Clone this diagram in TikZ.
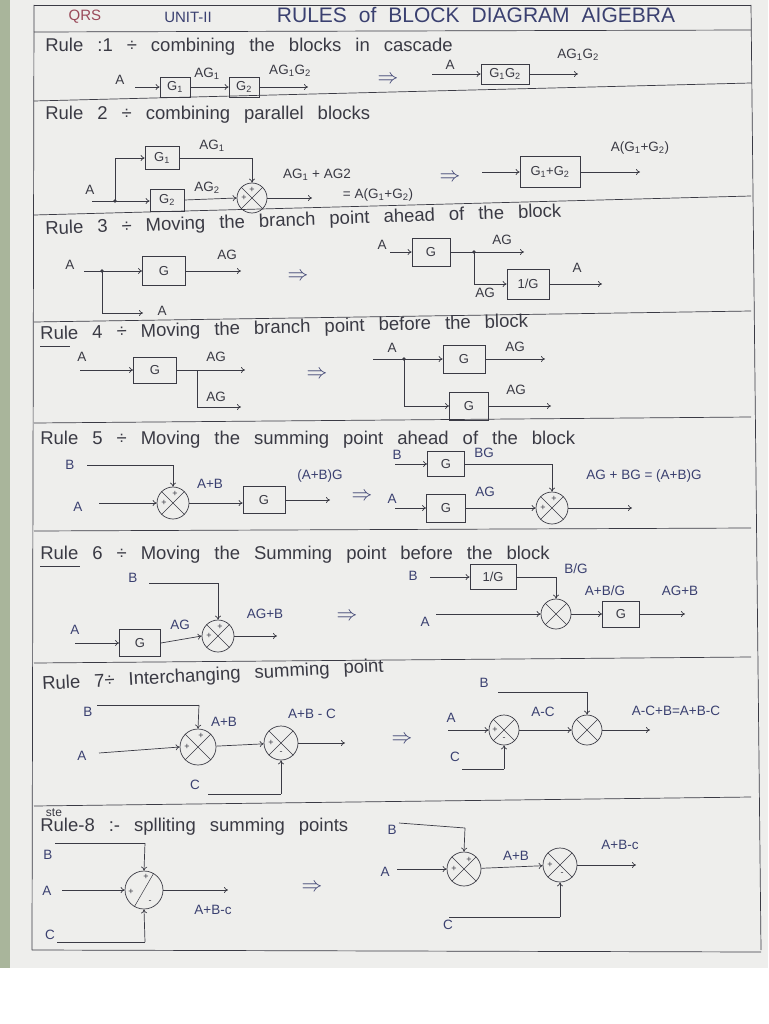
\documentclass[tikz,border=0pt]{standalone}
\usepackage{fontspec}
\setmainfont{Liberation Sans}
\usetikzlibrary{arrows.meta}
\definecolor{ink}{HTML}{3A3A44}
\definecolor{blueink}{HTML}{3A4070}
\definecolor{paper}{HTML}{EEEEEC}
\definecolor{strip}{HTML}{A9B59B}
\definecolor{redink}{HTML}{9A4A5A}
\newcommand\sumpt[4]{%
  \node[sumc, minimum size=#4pt] (#1) at (#2,#3) {};
  \draw[line width=0.5pt] (#1.45)--(#1.225) (#1.135)--(#1.315);}
\newcommand\sub[1]{\textsubscript{#1}}
\newcommand\headfont{\fontsize{18.5}{20}\selectfont\spaceskip 14pt plus 2pt\relax}
\newcommand\titlefont{\fontsize{21}{23}\selectfont\spaceskip 12pt plus 2pt\relax}
\begin{document}
\begin{tikzpicture}[x=1pt,y=-1pt, line width=0.7pt, draw=ink,
 blk/.style={draw=ink, minimum width=30pt, minimum height=20pt, inner sep=1pt, font=\fontsize{13}{14}\selectfont, text=ink},
 sumc/.style={draw=ink, circle, inner sep=0pt},
 lbl/.style={font=\fontsize{13.5}{15}\selectfont, inner sep=1pt, text=ink},
 blbl/.style={lbl, text=blueink},
 head/.style={font=\headfont, anchor=west, inner sep=0pt, text=ink},
 mk/.style={font=\fontsize{9}{10}\selectfont, inner sep=0pt, text=ink},
 arr/.style={draw=ink, -{To[length=4pt,width=6pt]}},
 ln/.style={draw=ink},
 imp/.style={font=\fontsize{22}{24}\selectfont, text=blueink}]
% page
\fill[white] (0,0) rectangle (768,1024);
\fill[paper] (10,0) rectangle (768,968);
\fill[strip] (0,0) rectangle (10,968);
\useasboundingbox (0,0) rectangle (768,1024);
% frame
\draw[ln] (34,5) -- (751,5);
\draw[ln] (34,5) -- (32,950);
\draw[ln] (751,5) -- (761,950);
\draw[ln] (32,950) -- (761,952);
\draw[ln] (34,32) -- (751,30);
\draw[ln] (34,101) -- (751,83);
\draw[ln] (34,215) -- (751,196);
\draw[ln] (34,322) -- (751,311);
\draw[ln] (34,423) -- (751,417);
\draw[ln] (34,531) -- (751,528);
\draw[ln] (34,663) -- (751,657);
\draw[ln] (34,806) -- (751,797);
% title
\node[font=\fontsize{15}{17}\selectfont, text=redink] (tq) at (85,17) {QRS};
\node[font=\fontsize{15}{17}\selectfont, text=blueink] (tu) at (188,17) {UNIT-II};
\node[font=\titlefont, text=blueink] (tt) at (476,15) {RULES of BLOCK DIAGRAM AIGEBRA};

% ---------- Rule 1
\node[head] (h1) at (45,47) {Rule :1 ÷ combining the blocks in cascade};
\node[lbl] (r1a) at (120,80) {A};
\coordinate (r1in) at (135,87);
\node[blk] (r1g1) at (175,87) {G\sub1};
\node[blk] (r1g2) at (244,87) {G\sub2};
\coordinate (r1out) at (308,87);
\draw[arr] (r1in) -- (r1g1);
\draw[arr] (r1g1) -- (r1g2);
\draw[arr] (r1g2) -- (r1out);
\node[lbl] (r1l1) at (207,74) {AG\sub1};
\node[lbl] (r1l2) at (290,71) {AG\sub1G\sub2};
\node[imp] (r1i) at (388,80) {$\Rightarrow$};
\node[lbl] (r1b) at (450,65) {A};
\coordinate (r1in2) at (432,74);
\node[blk, minimum width=48pt] (r1g12) at (505,74) {G\sub1G\sub2};
\coordinate (r1out2) at (578,74);
\draw[arr] (r1in2) -- (r1g12);
\draw[arr] (r1g12) -- (r1out2);
\node[lbl] (r1l3) at (578,55) {AG\sub1G\sub2};

% ---------- Rule 2
\node[head] (h2) at (45,115) {Rule 2 ÷ combining parallel blocks};
\node[blk, minimum width=34pt, minimum height=23pt] (r2g1) at (162,158) {G\sub1};
\node[blk, minimum width=34pt, minimum height=22pt] (r2g2) at (167,200) {G\sub2};
\node[lbl] (r2a) at (90,190) {A};
\coordinate (r2in) at (92,201);
\coordinate (r2bp) at (115,201);
\fill[ink] (r2bp) circle (1.8pt);
\sumpt{r2s}{252}{198}{30}
\node[mk] (r2m1) at (252,190) {+};
\node[mk] (r2m2) at (244,198) {+};
\draw[ln] (r2in) -- (r2bp);
\draw[arr] (r2bp) -- (r2g2.west |- r2bp);
\draw[arr] (r2bp) |- (r2g1);
\draw[arr] (r2g1.east) -| (r2s.north);
\draw[arr] (r2g2.east) -- (r2s.west);
\coordinate (r2out) at (312,198);
\draw[arr] (r2s.east) -- (r2out);
\node[lbl] (r2l1) at (212,146) {AG\sub1};
\node[lbl] (r2l2) at (207,188) {AG\sub2};
\node[lbl] (r2l3) at (317,175) {AG\sub1 + AG2};
\node[lbl] (r2l4) at (378,195) {= A(G\sub1+G\sub2)};
\node[imp] (r2i) at (450,178) {$\Rightarrow$};
\coordinate (r2in2) at (482,172);
\node[blk, minimum width=60pt, minimum height=31pt] (r2g) at (550,172) {G\sub1+G\sub2};
\coordinate (r2out2) at (640,172);
\draw[arr] (r2in2) -- (r2g);
\draw[arr] (r2g) -- (r2out2);
\node[lbl] (r2l5) at (640,148) {A(G\sub1+G\sub2)};

% ---------- Rule 3
\node[head, rotate=2] (h3) at (45,230) {Rule 3 ÷ Moving the branch point ahead of the block};
\node[lbl] (r3a) at (70,265) {A};
\coordinate (r3in) at (84,271);
\coordinate (r3bp) at (102,271);
\fill[ink] (r3bp) circle (1.8pt);
\node[blk, minimum width=43pt, minimum height=29pt] (r3g) at (164,271) {G};
\coordinate (r3out) at (241,271);
\coordinate (r3down) at (143,313);
\draw[ln] (r3in) -- (r3bp);
\draw[arr] (r3bp) -- (r3g);
\draw[arr] (r3g) -- (r3out);
\draw[arr] (r3bp) |- (r3down);
\node[lbl] (r3l1) at (227,255) {AG};
\node[lbl] (r3l2) at (162,311) {A};
\node[imp] (r3i) at (298,277) {$\Rightarrow$};
\node[lbl] (r3b) at (382,245) {A};
\coordinate (r3in2) at (390,252);
\node[blk, minimum width=38pt, minimum height=28pt] (r3g2) at (431,252) {G};
\coordinate (r3bp2) at (474,252);
\fill[ink] (r3bp2) circle (1.8pt);
\coordinate (r3out2) at (524,252);
\node[blk, minimum width=42pt, minimum height=30pt] (r3gi) at (528,284) {1/G};
\coordinate (r3out3) at (602,284);
\draw[arr] (r3in2) -- (r3g2);
\draw[ln] (r3g2) -- (r3bp2);
\draw[arr] (r3bp2) -- (r3out2);
\draw[arr] (r3bp2) |- (r3gi);
\draw[arr] (r3gi) -- (r3out3);
\node[lbl] (r3l3) at (502,240) {AG};
\node[lbl] (r3l4) at (577,268) {A};
\node[lbl] (r3l5) at (485,293) {AG};

% ---------- Rule 4
\node[head, rotate=1.5] (h4) at (40,335) {Rule 4 ÷ Moving the branch point before the block};
\draw[ln] (40,346) -- (70,346);
\node[lbl] (r4a) at (82,357) {A};
\coordinate (r4in) at (80,370);
\node[blk, minimum width=43pt, minimum height=26pt] (r4g) at (155,370) {G};
\coordinate (r4bp) at (197,370);
\coordinate (r4out) at (245,370);
\coordinate (r4down) at (241,407);
\draw[arr] (r4in) -- (r4g);
\draw[ln] (r4g) -- (r4bp);
\draw[arr] (r4bp) -- (r4out);
\draw[arr] (r4bp) |- (r4down);
\node[lbl] (r4l1) at (216,357) {AG};
\node[lbl] (r4l2) at (216,397) {AG};
\node[imp] (r4i) at (317,375) {$\Rightarrow$};
\node[lbl] (r4b) at (392,348) {A};
\coordinate (r4in2) at (373,359);
\coordinate (r4bp2) at (404,359);
\fill[ink] (r4bp2) circle (1.8pt);
\node[blk, minimum width=42pt, minimum height=28pt] (r4g1) at (464,359) {G};
\node[blk, minimum width=39pt, minimum height=28pt] (r4g2) at (469,406) {G};
\coordinate (r4out1) at (545,359);
\coordinate (r4out2) at (551,406);
\draw[ln] (r4in2) -- (r4bp2);
\draw[arr] (r4bp2) -- (r4g1);
\draw[arr] (r4bp2) |- (r4g2);
\draw[arr] (r4g1) -- (r4out1);
\draw[arr] (r4g2) -- (r4out2);
\node[lbl] (r4l3) at (515,347) {AG};
\node[lbl] (r4l4) at (516,390) {AG};

% ---------- Rule 5
\node[head] (h5) at (40,440) {Rule 5 ÷ Moving the summing point ahead of the block};
\node[blbl] (r5b) at (70,465) {B};
\coordinate (r5bin) at (87,465);
\coordinate (r5bc) at (173,465);
\sumpt{r5s}{173}{503}{32}
\node[mk] (r5m1) at (175,494) {+};
\node[mk] (r5m2) at (164,503) {+};
\node[blbl] (r5a) at (78,507) {A};
\coordinate (r5ain) at (99,503);
\node[blk, minimum width=42pt, minimum height=27pt] (r5g) at (264,500) {G};
\coordinate (r5out) at (330,500);
\draw[ln] (r5bin) -- (r5bc);
\draw[arr] (r5bc) -- (r5s.north);
\draw[arr] (r5ain) -- (r5s.west);
\draw[arr] (r5s.east) -- (r5g.west |- r5s.east);
\draw[arr] (r5g) -- (r5out);
\node[blbl] (r5l1) at (210,484) {A+B};
\node[blbl] (r5l2) at (320,476) {(A+B)G};
\node[imp] (r5i) at (362,497) {$\Rightarrow$};
\node[blbl] (r5b2) at (397,455) {B};
\coordinate (r5bin2) at (395,464);
\node[blk, minimum width=37pt, minimum height=25pt] (r5g1) at (446,464) {G};
\coordinate (r5bc2) at (552,464);
\node[blbl] (r5l3) at (484,453) {BG};
\node[blbl] (r5a2) at (392,499) {A};
\coordinate (r5ain2) at (395,508);
\node[blk, minimum width=39pt, minimum height=28pt] (r5g2) at (446,508) {G};
\sumpt{r5s2}{552}{508}{32}
\node[mk] (r5m3) at (554,499) {+};
\node[mk] (r5m4) at (543,508) {+};
\coordinate (r5out2) at (632,508);
\draw[arr] (r5bin2) -- (r5g1);
\draw[ln] (r5g1) -- (r5bc2);
\draw[arr] (r5bc2) -- (r5s2.north);
\draw[arr] (r5ain2) -- (r5g2);
\draw[arr] (r5g2) -- (r5s2);
\draw[arr] (r5s2) -- (r5out2);
\node[blbl] (r5l4) at (485,492) {AG};
\node[blbl] (r5l5) at (644,476) {AG + BG = (A+B)G};

% ---------- Rule 6
\node[head] (h6) at (40,555) {Rule 6 ÷ Moving the Summing point before the block};
\draw[ln] (40,566) -- (80,566);
\node[blbl] (r6b) at (133,578) {B};
\coordinate (r6bin) at (149,583);
\coordinate (r6bc) at (218,583);
\sumpt{r6s}{218}{636}{32}
\node[mk] (r6m1) at (220,627) {+};
\node[mk] (r6m2) at (209,636) {+};
\node[blbl] (r6a) at (75,630) {A};
\coordinate (r6ain) at (75,643);
\node[blk, minimum width=41pt, minimum height=27pt] (r6g) at (140,643) {G};
\coordinate (r6out) at (277,636);
\draw[ln] (r6bin) -- (r6bc);
\draw[arr] (r6bc) -- (r6s.north);
\draw[arr] (r6ain) -- (r6g);
\draw[arr] (r6g.east) -- (r6s.west);
\draw[arr] (r6s) -- (r6out);
\node[blbl] (r6l1) at (180,625) {AG};
\node[blbl] (r6l2) at (265,614) {AG+B};
\node[imp] (r6i) at (347,617) {$\Rightarrow$};
\node[blbl] (r6b2) at (413,576) {B};
\coordinate (r6bin2) at (430,577);
\node[blk, minimum width=46pt, minimum height=25pt] (r6gi) at (493,577) {1/G};
\coordinate (r6bc2) at (556,577);
\sumpt{r6s2}{556}{614}{30}
\node[blbl] (r6a2) at (425,622) {A};
\coordinate (r6ain2) at (436,614);
\node[blk, minimum width=37pt, minimum height=26pt] (r6g2) at (621,614) {G};
\coordinate (r6out2) at (685,614);
\draw[arr] (r6bin2) -- (r6gi);
\draw[ln] (r6gi) -- (r6bc2);
\draw[arr] (r6bc2) -- (r6s2.north);
\draw[arr] (r6ain2) -- (r6s2);
\draw[arr] (r6s2) -- (r6g2);
\draw[arr] (r6g2) -- (r6out2);
\node[blbl] (r6l3) at (576,569) {B/G};
\node[blbl] (r6l4) at (605,591) {A+B/G};
\node[blbl] (r6l5) at (680,591) {AG+B};

% ---------- Rule 7
\node[head, rotate=3] (h7) at (42,685) {Rule 7÷ Interchanging summing point};
\node[blbl] (r7b) at (88,712) {B};
\coordinate (r7bin) at (97,705);
\coordinate (r7bc) at (199,705);
\sumpt{r7s1}{198}{747}{36}
\node[mk] (r7m1) at (201,736) {+};
\node[mk] (r7m2) at (187,747) {+};
\node[blbl] (r7a) at (82,756) {A};
\coordinate (r7ain) at (99,753);
\sumpt{r7s2}{281}{743}{34}
\node[mk] (r7m3) at (271,743) {+};
\node[mk] (r7m4) at (281,753) {-};
\coordinate (r7out) at (345,743);
\node[blbl] (r7c) at (195,785) {C};
\coordinate (r7cin) at (208,794);
\coordinate (r7cc) at (281,794);
\draw[ln] (r7bin) -- (r7bc);
\draw[arr] (r7bc) -- (r7s1.north);
\draw[arr] (r7ain) -- (r7s1.west);
\draw[arr] (r7s1) -- (r7s2);
\draw[arr] (r7s2) -- (r7out);
\draw[ln] (r7cin) -- (r7cc);
\draw[arr] (r7cc) -- (r7s2.south);
\node[blbl] (r7l1) at (224,722) {A+B};
\node[blbl] (r7l2) at (312,714) {A+B - C};
\node[imp] (r7i) at (402,740) {$\Rightarrow$};
\node[blbl] (r7a2) at (451,718) {A};
\coordinate (r7ain2) at (448,730);
\sumpt{r7s3}{504}{730}{30}
\node[mk] (r7m5) at (495,730) {+};
\node[mk] (r7m6) at (504,739) {-};
\node[blbl] (r7c2) at (455,757) {C};
\coordinate (r7cin2) at (462,769);
\coordinate (r7cc2) at (504,769);
\sumpt{r7s4}{587}{730}{30}
\node[blbl] (r7b2) at (484,683) {B};
\coordinate (r7bin2) at (498,692);
\coordinate (r7bc2) at (587,692);
\coordinate (r7out2) at (650,730);
\draw[arr] (r7ain2) -- (r7s3);
\draw[ln] (r7cin2) -- (r7cc2);
\draw[arr] (r7cc2) -- (r7s3.south);
\draw[arr] (r7s3) -- (r7s4);
\draw[ln] (r7bin2) -- (r7bc2);
\draw[arr] (r7bc2) -- (r7s4.north);
\draw[arr] (r7s4) -- (r7out2);
\node[blbl] (r7l3) at (543,712) {A-C};
\node[blbl] (r7l4) at (676,711) {A-C+B=A+B-C};

% ---------- Rule 8
\node[font=\fontsize{12}{13}\selectfont, text=ink] (r8s) at (54,813) {ste};
\node[head] (h8) at (40,827) {Rule-8 :- splliting summing points};
\node[blbl] (r8b) at (48,855) {B};
\coordinate (r8bin) at (55,843);
\coordinate (r8bc) at (145,843);
\node[sumc, minimum size=38pt] (r8s1) at (144,890) {};
\draw[line width=0.5pt] (r8s1.60) -- (r8s1.240);
\node[mk] (r8m1) at (146,877) {+};
\node[mk] (r8m2) at (131,892) {+};
\node[mk] (r8m3) at (150,902) {-};
\node[blbl] (r8a) at (47,891) {A};
\coordinate (r8ain) at (62,890);
\node[blbl] (r8c) at (50,935) {C};
\coordinate (r8cin) at (57,942);
\coordinate (r8cc) at (145,942);
\coordinate (r8out) at (228,890);
\draw[ln] (r8bin) -- (r8bc);
\draw[arr] (r8bc) -- (r8s1.north);
\draw[arr] (r8ain) -- (r8s1.west);
\draw[ln] (r8cin) -- (r8cc);
\draw[arr] (r8cc) -- (r8s1.south);
\draw[arr] (r8s1) -- (r8out);
\node[blbl] (r8l1) at (213,910) {A+B-c};
\node[imp] (r8i) at (312,888) {$\Rightarrow$};
\node[blbl] (r8b2) at (392,830) {B};
\coordinate (r8bin2) at (399,823);
\coordinate (r8bc2) at (465,828);
\sumpt{r8s2}{464}{869}{34}
\node[mk] (r8m4) at (469,860) {+};
\node[mk] (r8m5) at (454,869) {+};
\node[blbl] (r8a2) at (385,872) {A};
\coordinate (r8ain2) at (397,869);
\sumpt{r8s3}{560}{865}{34}
\node[mk] (r8m6) at (550,865) {+};
\node[mk] (r8m7) at (562,874) {-};
\node[blbl] (r8c2) at (448,925) {C};
\coordinate (r8cin2) at (449,917);
\coordinate (r8cc2) at (560,917);
\coordinate (r8out2) at (636,865);
\draw[ln] (r8bin2) -- (r8bc2);
\draw[arr] (r8bc2) -- (r8s2.north);
\draw[arr] (r8ain2) -- (r8s2);
\draw[arr] (r8s2) -- (r8s3);
\draw[ln] (r8cin2) -- (r8cc2);
\draw[arr] (r8cc2) -- (r8s3.south);
\draw[arr] (r8s3) -- (r8out2);
\node[blbl] (r8l2) at (516,856) {A+B};
\node[blbl] (r8l3) at (620,845) {A+B-c};
\end{tikzpicture}
\end{document}
